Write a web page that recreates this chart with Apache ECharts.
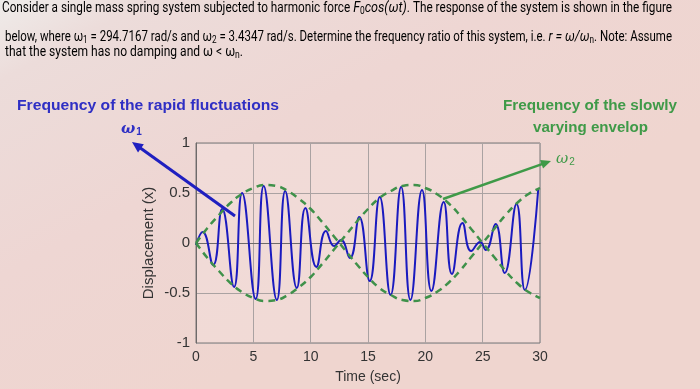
<!DOCTYPE html>
<html><head><meta charset="utf-8">
<script src="https://cdn.jsdelivr.net/npm/echarts@6/dist/echarts.min.js"></script>
<style>html,body{margin:0;padding:0;background:#eee;}#c{width:700px;height:389px;}</style>
</head><body><div id="c"></div>
<script>
// ---- data ----
const responseT = [0, 0.58, 1.5, 2.28, 3.32, 4.02, 5.2, 5.9, 7.05, 7.78, 8.79, 9.54, 10.5, 11.33, 12.05, 12.64, 13.42, 14.24, 15.15, 16.02, 16.97, 17.89, 18.7, 19.71, 20.53, 21.6, 22.32, 23.24, 24.0, 24.78, 25.27, 26.12, 26.92, 27.95, 28.68, 29.84];
const responseX = [-0.02, 0.11, -0.22, 0.34, -0.44, 0.50, -0.56, 0.57, -0.57, 0.52, -0.45, 0.35, -0.24, 0.12, -0.03, 0.03, -0.15, 0.26, -0.38, 0.46, -0.52, 0.56, -0.57, 0.53, -0.48, 0.41, -0.31, 0.20, -0.08, 0.01, -0.07, 0.19, -0.30, 0.39, -0.47, 0.53];
const envelopeT = [0,1,2,3,4,5,6,7,8,9,10,11,12,13,14,15,16,17,18,19,20,21,22,23,24,25,26,27,28,29,30];
const envelopeUpper = [0.0,0.15,0.28,0.40,0.49,0.55,0.58,0.57,0.52,0.44,0.34,0.21,0.07,-0.07,-0.21,-0.34,-0.45,-0.52,-0.57,-0.58,-0.55,-0.49,-0.40,-0.28,-0.14,0.0,0.14,0.28,0.40,0.49,0.55];
const envelopeLower = [0.0,-0.15,-0.28,-0.40,-0.49,-0.55,-0.58,-0.57,-0.52,-0.44,-0.34,-0.21,-0.07,0.07,0.21,0.34,0.45,0.52,0.57,0.58,0.55,0.49,0.40,0.28,0.14,0.0,-0.14,-0.28,-0.40,-0.49,-0.55];
const xTickValues = [0,5,10,15,20,25,30];
const yTickLabels = ['-1','-0.5','0','0.5','1'];

// ---- helpers ----
const cv = document.createElement('canvas').getContext('2d');
function segWidth(segs){ let w=0; segs.forEach(s=>{cv.font=s[1]; w+=cv.measureText(s[0]).width;}); return w; }
function arrow(x1,y1,x2,y2,color,w,hl,hw){
  const dx=x2-x1, dy=y2-y1, L=Math.hypot(dx,dy), ux=dx/L, uy=dy/L;
  const bx=x2-ux*hl, by=y2-uy*hl;
  return [
    {type:'line',silent:true,shape:{x1:x1,y1:y1,x2:bx+ux*2,y2:by+uy*2},style:{stroke:color,lineWidth:w},z:10},
    {type:'polygon',silent:true,shape:{points:[[x2,y2],[bx-uy*hw,by+ux*hw],[bx+uy*hw,by-ux*hw]]},style:{fill:color},z:10}
  ];
}
const HF = 'Roboto';
const hdColor = '#3a3a44';
const N = '14px '+HF, I = 'italic 15px '+HF, S = '10px '+HF;
const line1 = [['Consider a single mass spring system subjected to harmonic force ',N],['F',I],['0',S],['cos(ωt)',I],['. The response of the system is shown in the figure',N]];
const line2 = [['below, where ω',N],['1',S],[' = 294.7167 rad/s and ω',N],['2',S],[' = 3.4347 rad/s. Determine the frequency ratio of this system, i.e. ',N],['r = ω/ω',I],['n',S],['. Note: Assume',N]];
const line3 = [['that the system has no damping and ω < ω',N],['n',S],['.',N]];
const richBase = {
  n:{fontFamily:HF,fontSize:14,color:hdColor,lineHeight:18},
  i:{fontFamily:HF,fontSize:15,fontStyle:'italic',color:'#5a5a62',lineHeight:18},
  s:{fontFamily:HF,fontSize:10,color:hdColor,lineHeight:12,padding:[7,0,0,0]}
};
function toRich(segs){ return segs.map(s=>{const k = s[1]===N?'n':(s[1]===I?'i':'s'); return '{'+k+'|'+s[0]+'}';}).join(''); }
function headerText(segs,x,y,target){
  return {type:'text',silent:true,x:x,y:y,scaleX:target/segWidth(segs),style:{text:toRich(segs),rich:richBase,verticalAlign:'middle',align:'left'},z:10};
}
function plainText(txt,fam,size,weight,color,x,y,target,style){
  const f=(style||'normal')+' '+weight+' '+size+'px '+fam;
  cv.font=f; const w=cv.measureText(txt).width;
  return {type:'text',silent:true,x:x,y:y,scaleX:target/w,style:{text:txt,fontFamily:fam,fontSize:size,fontWeight:weight,fontStyle:style||'normal',fill:color,align:'left',verticalAlign:'middle'},z:10};
}
const blueTxt='#2f2fc4', greenTxt='#3f9a48';
const graphics = [].concat(
  [headerText(line1,2,8,670), headerText(line2,5,37,667), headerText(line3,5,52,238)],
  [plainText('Frequency of the rapid fluctuations','Liberation Sans',14,'bold',blueTxt,17,106,262)],
  [plainText('Frequency of the slowly','Liberation Sans',14,'bold',greenTxt,503,106,174)],
  [plainText('varying envelop','Liberation Sans',14,'bold',greenTxt,533,128,115)],
  [{type:'text',silent:true,x:121,y:129,style:{text:'{w|ω}{s|1}',rich:{w:{fontFamily:'DejaVu Serif',fontStyle:'italic',fontWeight:'bold',fontSize:15,fill:blueTxt},s:{fontFamily:'Liberation Sans',fontWeight:'bold',fontSize:10,fill:blueTxt,padding:[7,0,0,1]}},verticalAlign:'middle'},z:10}],
  [{type:'text',silent:true,x:556,y:159,style:{text:'{w|ω}{s|2}',rich:{w:{fontFamily:'DejaVu Serif',fontStyle:'italic',fontSize:15,fill:greenTxt},s:{fontFamily:'Liberation Sans',fontSize:10,fill:greenTxt,padding:[7,0,0,1]}},verticalAlign:'middle'},z:10}],
  arrow(235,216,132,142,'#1f1fc0',3,11,5),
  arrow(443,199,551,161,'#3f9a48',2.5,10,4.5)
);

const chart = echarts.init(document.getElementById('c'), null, {renderer:'canvas'});
chart.setOption({
  animation:false,
  backgroundColor:{type:'linear',x:0,y:0,x2:0.3,y2:1,colorStops:[{offset:0,color:'#efecea'},{offset:0.16,color:'#ecdcda'},{offset:0.55,color:'#eed6d3'},{offset:1,color:'#efd5cf'}]},
  grid:{left:196,right:160,top:143,bottom:43,show:true,borderColor:'#7a7676',borderWidth:1,backgroundColor:'rgba(245,228,225,0.35)'},
  xAxis:{type:'value',min:0,max:30,interval:5,
    name:'Time (sec)',nameLocation:'middle',nameGap:27,nameTextStyle:{fontFamily:'Liberation Sans',fontSize:14,color:'#333'},
    axisLine:{show:true,lineStyle:{color:'#6e6a6a'}},axisTick:{show:false},
    axisLabel:{fontFamily:'Liberation Sans',fontSize:14,color:'#333',margin:7,formatter:v=>xTickValues.indexOf(v)>=0?String(v):''},
    splitLine:{show:true,lineStyle:{color:'#aaa2a2',width:1}}},
  yAxis:{type:'value',min:-1,max:1,interval:0.5,
    name:'Displacement (x)',nameLocation:'middle',nameGap:40,nameRotate:90,nameTextStyle:{fontFamily:'Liberation Sans',fontSize:15,color:'#333'},
    axisLine:{show:true,lineStyle:{color:'#6e6a6a'}},axisTick:{show:false},
    axisLabel:{fontFamily:'Liberation Sans',fontSize:15,color:'#333',margin:6,formatter:v=>yTickLabels[Math.round((v+1)*2)]},
    splitLine:{show:true,lineStyle:{color:'#aaa2a2',width:1}}},
  series:[
    {type:'line',data:responseT.map((t,i)=>[t,responseX[i]]),showSymbol:false,smooth:0.5,
      lineStyle:{color:'#1a1abf',width:2},z:3},
    {type:'line',data:envelopeT.map((t,i)=>[t,envelopeUpper[i]]),showSymbol:false,smooth:true,
      lineStyle:{color:'#3f914a',width:2.5,type:[7,5]},z:4},
    {type:'line',data:envelopeT.map((t,i)=>[t,envelopeLower[i]]),showSymbol:false,smooth:true,
      lineStyle:{color:'#3f914a',width:2.5,type:[7,5]},z:4}
  ],
  graphic:graphics
});
</script></body></html>
